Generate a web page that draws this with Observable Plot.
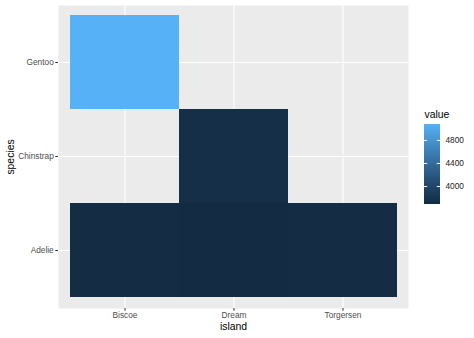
<!DOCTYPE html>
<html>
<head>
<meta charset="utf-8">
<script src="https://cdn.jsdelivr.net/npm/d3@7"></script>
<script src="https://cdn.jsdelivr.net/npm/@observablehq/plot@0.6"></script>
<style>
  html, body { margin: 0; padding: 0; background: white; }
  #wrap { position: relative; width: 474px; height: 338px; }
  #wrap svg { position: absolute; left: 0; top: 0; }
</style>
</head>
<body>
<div id="wrap"></div>
<script>
// Data (mean body mass by island and species)
const islandLevels = ["Biscoe", "Dream", "Torgersen"];
const speciesLevels = ["Adelie", "Chinstrap", "Gentoo"];
const cellIsland = ["Biscoe", "Dream", "Torgersen", "Dream", "Biscoe"];
const cellSpecies = ["Adelie", "Adelie", "Adelie", "Chinstrap", "Gentoo"];
const cellValue = [3709.66, 3688.39, 3706.37, 3733.09, 5076.02];
const legendTicks = [4000, 4400, 4800];

const data = cellValue.map((v, i) => ({island: cellIsland[i], species: cellSpecies[i], value: v}));
const minV = d3.min(cellValue), maxV = d3.max(cellValue);

const colorOpts = {type: "linear", domain: [minV, maxV], range: ["#132B43", "#56B1F7"], interpolate: d3.interpolateLab};
const font = "'Liberation Sans', Arial, Helvetica, sans-serif";

const main = Plot.plot({
  width: 474, height: 338,
  marginLeft: 58, marginRight: 66, marginTop: 5, marginBottom: 30,
  style: {fontFamily: font, fontSize: "8.3px", background: "white", overflow: "visible"},
  x: {type: "band", domain: islandLevels, padding: 0, inset: 11, label: null},
  y: {type: "band", domain: speciesLevels, reverse: true, padding: 0, insetTop: 9, insetBottom: 10, label: null},
  color: colorOpts,
  marks: [
    Plot.frame({fill: "#EBEBEB", stroke: "none"}),
    Plot.gridX({stroke: "white", strokeOpacity: 1, strokeWidth: 1.07}),
    Plot.gridY({stroke: "white", strokeOpacity: 1, strokeWidth: 1.07}),
    Plot.cell(data, {x: "island", y: "species", fill: "value", inset: 0, shapeRendering: "crispEdges"}),
    Plot.axisX({tickSize: 2.75, tickPadding: 1, stroke: "#333333", fill: "#4D4D4D", fontSize: 8.3, label: null}),
    Plot.axisY({tickSize: 2.75, tickPadding: 2, stroke: "#333333", fill: "#4D4D4D", fontSize: 8.3, label: null}),
    Plot.text(["island"], {frameAnchor: "bottom", dy: 18.5, lineAnchor: "middle", textAnchor: "middle", text: d => d, fontSize: 10.4, fill: "black"}),
    Plot.text(["species"], {frameAnchor: "left", dx: -48, rotate: -90, lineAnchor: "middle", textAnchor: "middle", text: d => d, fontSize: 10.4, fill: "black"})
  ]
});

const legend = Plot.plot({
  width: 474, height: 338,
  margin: 0,
  style: {fontFamily: font, fontSize: "8.3px", background: "transparent", overflow: "visible"},
  x: {domain: [0, 1], range: [424, 440], axis: null},
  y: {domain: [minV, maxV], range: [204, 124], axis: null},
  marks: [
    Plot.rect([0], {x1: 0, x2: 1, y1: minV, y2: maxV, fill: "url(#legendGrad)"}),
    Plot.ruleY(legendTicks, {x1: 0, x2: 0.2, stroke: "white", strokeWidth: 1}),
    Plot.ruleY(legendTicks, {x1: 0.8, x2: 1, stroke: "white", strokeWidth: 1}),
    Plot.text(legendTicks, {x: 1, y: d => d, dx: 5, textAnchor: "start", text: d => String(d), fill: "#222", fontSize: 8.3}),
    Plot.text(["value"], {x: 0, y: maxV, dy: -10, textAnchor: "start", text: d => d, fill: "black", fontSize: 10.4})
  ]
});

// gradient built from the main plot's color scale
const cs = main.scale("color");
const grad = d3.select(legend).insert("defs", ":first-child")
  .append("linearGradient").attr("id", "legendGrad")
  .attr("x1", 0).attr("y1", 1).attr("x2", 0).attr("y2", 0);
const nStops = 12;
for (let i = 0; i <= nStops; i++) {
  const t = i / nStops;
  grad.append("stop").attr("offset", t).attr("stop-color", cs.apply(minV + t * (maxV - minV)));
}

const wrap = document.getElementById("wrap");
wrap.appendChild(main);
wrap.appendChild(legend);
</script>
</body>
</html>
